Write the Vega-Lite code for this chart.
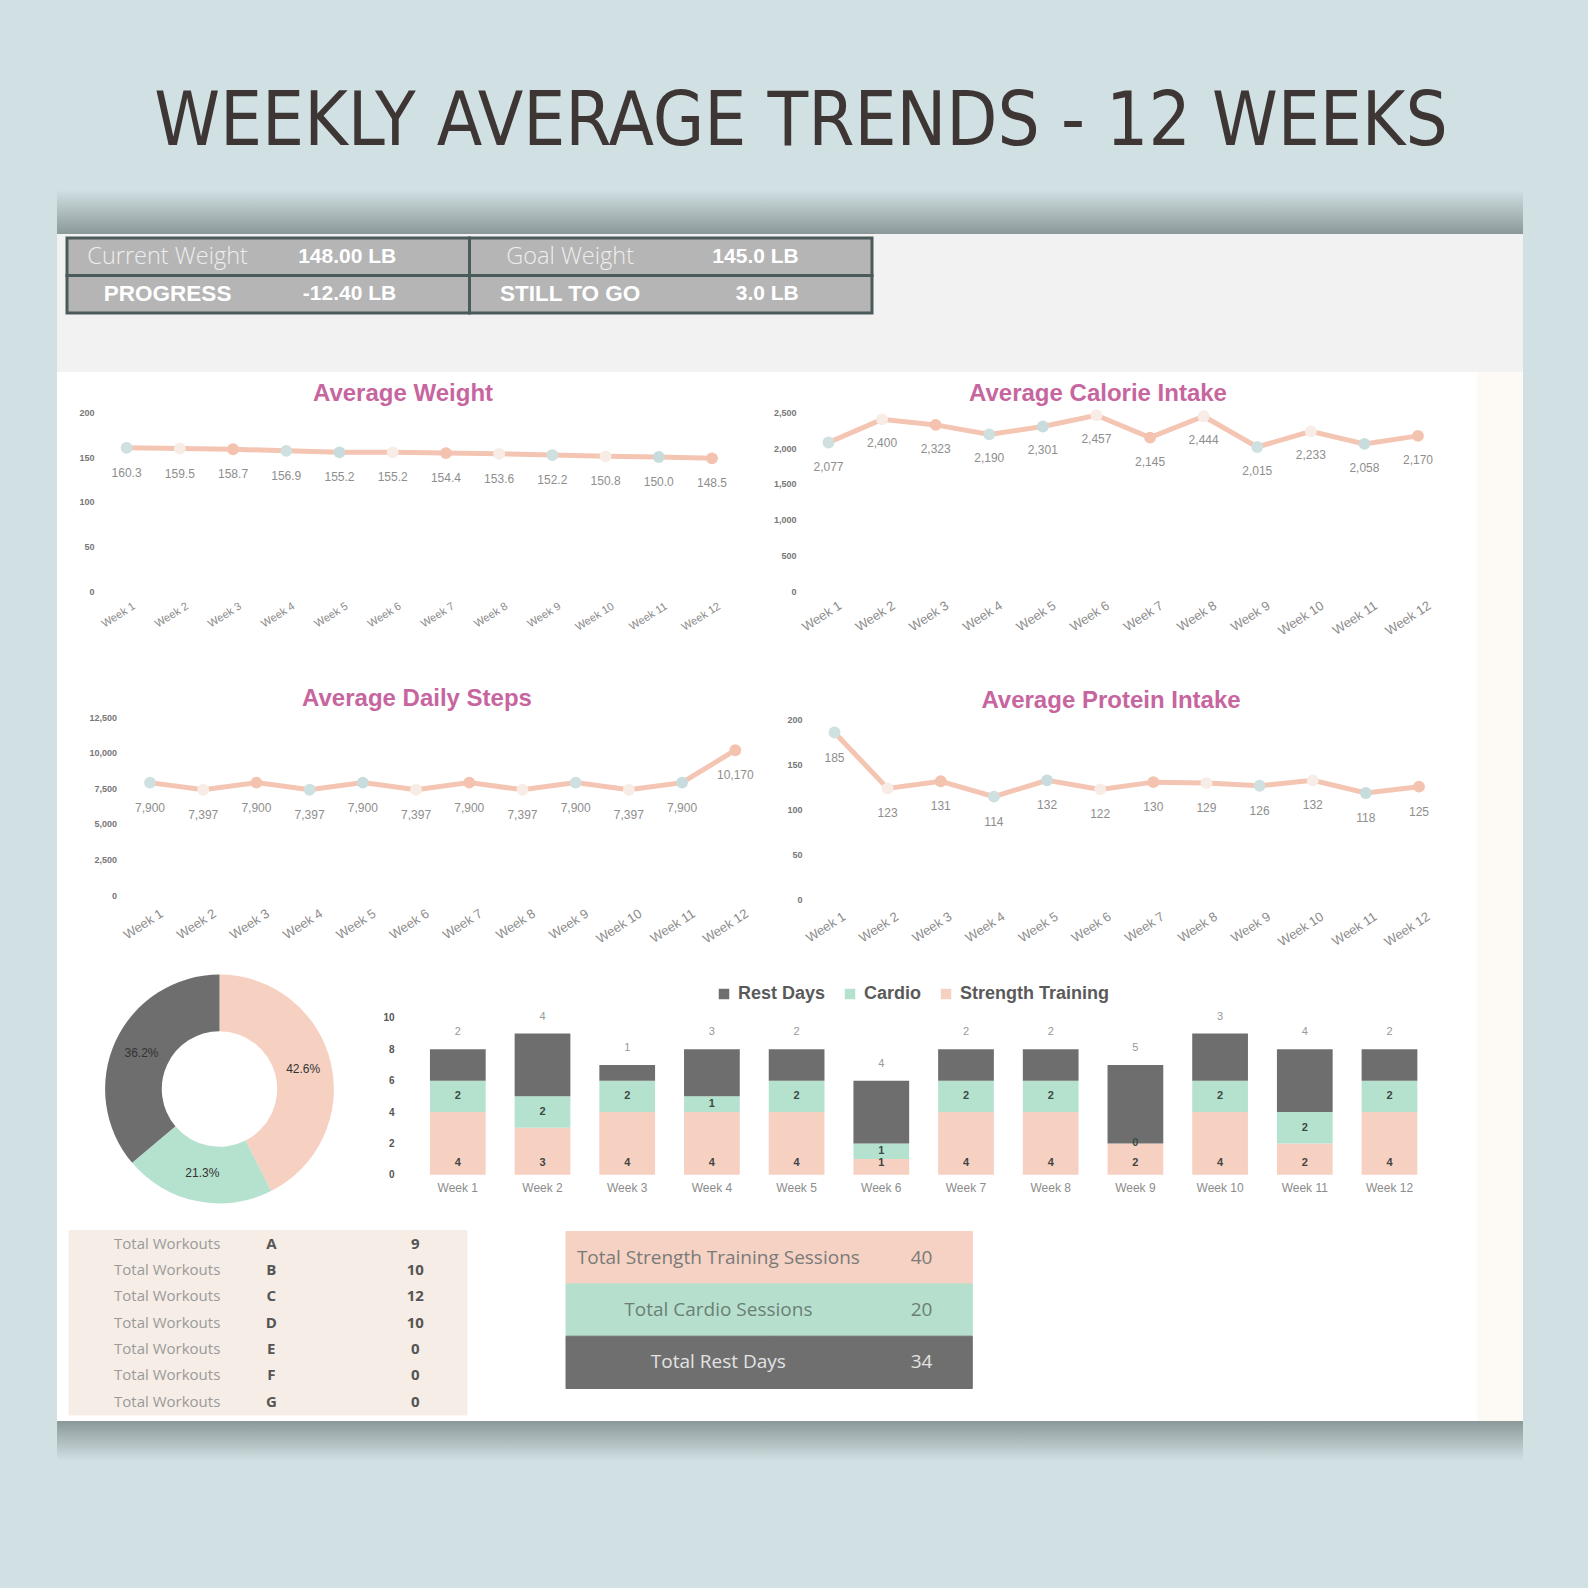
{
 "$schema": "https://vega.github.io/schema/vega-lite/v6.json",
 "background": "#d1e0e3",
 "padding": {"left": 57, "top": 0, "right": 65, "bottom": 127},
 "spacing": 0,
 "resolve": {"scale": {"color": "independent", "fill": "independent", "stroke": "independent"}},
 "config": {"view": {"stroke": null}, "font": "Liberation Sans", "axis": {"domain": false, "ticks": false, "grid": false}},
 "datasets": {
  "weekly": [
   {"week": "Week 1", "weight": 160.3, "calories": 2077, "steps": 7900, "protein": 185},
   {"week": "Week 2", "weight": 159.5, "calories": 2400, "steps": 7397, "protein": 123},
   {"week": "Week 3", "weight": 158.7, "calories": 2323, "steps": 7900, "protein": 131},
   {"week": "Week 4", "weight": 156.9, "calories": 2190, "steps": 7397, "protein": 114},
   {"week": "Week 5", "weight": 155.2, "calories": 2301, "steps": 7900, "protein": 132},
   {"week": "Week 6", "weight": 155.2, "calories": 2457, "steps": 7397, "protein": 122},
   {"week": "Week 7", "weight": 154.4, "calories": 2145, "steps": 7900, "protein": 130},
   {"week": "Week 8", "weight": 153.6, "calories": 2444, "steps": 7397, "protein": 129},
   {"week": "Week 9", "weight": 152.2, "calories": 2015, "steps": 7900, "protein": 126},
   {"week": "Week 10", "weight": 150.8, "calories": 2233, "steps": 7397, "protein": 132},
   {"week": "Week 11", "weight": 150.0, "calories": 2058, "steps": 7900, "protein": 118},
   {"week": "Week 12", "weight": 148.5, "calories": 2170, "steps": 10170, "protein": 125}
  ],
  "training": [
   {"week": "Week 1", "type": "Strength Training", "days": 4}, {"week": "Week 1", "type": "Cardio", "days": 2}, {"week": "Week 1", "type": "Rest Days", "days": 2},
   {"week": "Week 2", "type": "Strength Training", "days": 3}, {"week": "Week 2", "type": "Cardio", "days": 2}, {"week": "Week 2", "type": "Rest Days", "days": 4},
   {"week": "Week 3", "type": "Strength Training", "days": 4}, {"week": "Week 3", "type": "Cardio", "days": 2}, {"week": "Week 3", "type": "Rest Days", "days": 1},
   {"week": "Week 4", "type": "Strength Training", "days": 4}, {"week": "Week 4", "type": "Cardio", "days": 1}, {"week": "Week 4", "type": "Rest Days", "days": 3},
   {"week": "Week 5", "type": "Strength Training", "days": 4}, {"week": "Week 5", "type": "Cardio", "days": 2}, {"week": "Week 5", "type": "Rest Days", "days": 2},
   {"week": "Week 6", "type": "Strength Training", "days": 1}, {"week": "Week 6", "type": "Cardio", "days": 1}, {"week": "Week 6", "type": "Rest Days", "days": 4},
   {"week": "Week 7", "type": "Strength Training", "days": 4}, {"week": "Week 7", "type": "Cardio", "days": 2}, {"week": "Week 7", "type": "Rest Days", "days": 2},
   {"week": "Week 8", "type": "Strength Training", "days": 4}, {"week": "Week 8", "type": "Cardio", "days": 2}, {"week": "Week 8", "type": "Rest Days", "days": 2},
   {"week": "Week 9", "type": "Strength Training", "days": 2}, {"week": "Week 9", "type": "Cardio", "days": 0}, {"week": "Week 9", "type": "Rest Days", "days": 5},
   {"week": "Week 10", "type": "Strength Training", "days": 4}, {"week": "Week 10", "type": "Cardio", "days": 2}, {"week": "Week 10", "type": "Rest Days", "days": 3},
   {"week": "Week 11", "type": "Strength Training", "days": 2}, {"week": "Week 11", "type": "Cardio", "days": 2}, {"week": "Week 11", "type": "Rest Days", "days": 4},
   {"week": "Week 12", "type": "Strength Training", "days": 4}, {"week": "Week 12", "type": "Cardio", "days": 2}, {"week": "Week 12", "type": "Rest Days", "days": 2}
  ],
  "workouts": [
   {"name": "Total Workouts", "letter": "A", "count": 9},
   {"name": "Total Workouts", "letter": "B", "count": 10},
   {"name": "Total Workouts", "letter": "C", "count": 12},
   {"name": "Total Workouts", "letter": "D", "count": 10},
   {"name": "Total Workouts", "letter": "E", "count": 0},
   {"name": "Total Workouts", "letter": "F", "count": 0},
   {"name": "Total Workouts", "letter": "G", "count": 0}
  ],
  "sessions": [
   {"label": "Total Strength Training Sessions", "type": "Strength Training", "total": 40},
   {"label": "Total Cardio Sessions", "type": "Cardio", "total": 20},
   {"label": "Total Rest Days", "type": "Rest Days", "total": 34}
  ],
  "stats": [
   {"row": 1, "col": 1, "label": "Current Weight", "value": "148.00 LB"},
   {"row": 1, "col": 2, "label": "Goal Weight", "value": "145.0 LB"},
   {"row": 2, "col": 1, "label": "PROGRESS", "value": "-12.40 LB"},
   {"row": 2, "col": 2, "label": "STILL TO GO", "value": "3.0 LB"}
  ]
 },
 "vconcat": [
  {
   "width": 1466, "height": 190,
   "data": {"values": [{"t": "WEEKLY AVERAGE TRENDS - 12  WEEKS"}]},
   "mark": {"type": "text", "font": "DejaVu Sans Condensed, DejaVu Sans", "fontSize": 74, "color": "#3e3634", "dx": 11, "dy": 28},
   "encoding": {"text": {"field": "t"}}
  },
  {
   "width": 1466, "height": 44,
   "view": {"stroke": null, "fill": {"gradient": "linear", "x1": 0, "y1": 0, "x2": 0, "y2": 1, "stops": [{"offset": 0, "color": "#d1e0e3"}, {"offset": 1, "color": "#8b9899"}]}},
   "data": {"values": [{}]},
   "mark": {"type": "text", "text": " "}
  },
  {
   "width": 1466, "height": 138,
   "view": {"fill": "#f2f2f2", "stroke": null},
   "data": {"name": "stats"},
   "encoding": {
    "x": {"field": "col", "type": "ordinal", "scale": {"type": "band", "range": [10, 815], "padding": 0}, "axis": null},
    "y": {"field": "row", "type": "ordinal", "scale": {"type": "band", "range": [4, 79], "padding": 0}, "axis": null}
   },
   "layer": [
    {"mark": {"type": "rect", "color": "#b5b5b5", "stroke": "#4b5a5b", "strokeWidth": 3}},
    {"transform": [{"filter": "datum.row == 1"}], "mark": {"type": "text", "font": "Open Sans", "fontSize": 23.5, "fontWeight": 300, "color": "#eeeeee"}, "encoding": {"x": {"field": "col", "type": "ordinal", "bandPosition": 0.25}, "text": {"field": "label"}}},
    {"transform": [{"filter": "datum.row == 2"}], "mark": {"type": "text", "fontSize": 22.5, "fontWeight": "bold", "color": "#ffffff"}, "encoding": {"x": {"field": "col", "type": "ordinal", "bandPosition": 0.25}, "text": {"field": "label"}}},
    {"mark": {"type": "text", "fontSize": 21, "fontWeight": "bold", "color": "#ffffff", "align": "right"}, "encoding": {"x": {"field": "col", "type": "ordinal", "bandPosition": 0.818}, "text": {"field": "value"}}}
   ]
  },
  {
   "spacing": 0,
   "resolve": {"scale": {"color": "independent", "fill": "independent", "stroke": "independent"}},
   "hconcat": [
    {
     "spacing": 0,
     "resolve": {"scale": {"color": "independent", "fill": "independent", "stroke": "independent"}},
     "vconcat": [
      {
       "spacing": 0,
       "resolve": {"scale": {"color": "independent", "fill": "independent", "stroke": "independent"}},
       "hconcat": [
        {
         "width": 700, "height": 296,
         "view": {"fill": "white", "stroke": null},
         "title": {"text": "Average Weight", "font": "Liberation Sans", "fontSize": 24, "fontWeight": "bold", "color": "#c7659f", "anchor": "middle", "frame": "group", "offset": -53, "baseline": "alphabetic", "dx": -4},
         "data": {"name": "weekly"},
         "encoding": {
          "x": {"field": "week", "type": "ordinal", "sort": null, "title": null, "scale": {"type": "point", "range": [69.6, 655], "padding": 0}, "axis": {"labelAngle": -32, "labelAlign": "right", "labelBaseline": "top", "labelFontSize": 11, "labelColor": "#8c8c8c", "offset": -68, "labelPadding": 0, "labelOffset": 4}},
          "y": {"field": "weight", "type": "quantitative", "title": null, "scale": {"domain": [0, 200], "range": [219.5, 40.2], "nice": false, "zero": false}, "axis": {"values": [0, 50, 100, 150, 200], "offset": -37, "labelPadding": 0, "labelFontSize": 9, "labelFontWeight": "bold", "labelColor": "#777777"}}
         },
         "layer": [
          {"mark": {"type": "line", "color": "#f4c5b2", "strokeWidth": 5}},
          {"mark": {"type": "circle", "size": 140, "opacity": 1}, "encoding": {"color": {"field": "week", "type": "nominal", "sort": null, "legend": null, "scale": {"domain": ["Week 1","Week 2","Week 3","Week 4","Week 5","Week 6","Week 7","Week 8","Week 9","Week 10","Week 11","Week 12"], "range": ["#cfe0e1","#f8ece7","#f3c3af","#cfe0e1","#c9dcdd","#f8ece7","#f3c3af","#f8ece7","#cfe0e1","#f8ece7","#c9dcdd","#f3c3af"]}}}},
          {"mark": {"type": "text", "dy": 25, "fontSize": 12, "color": "#8e8e8e"}, "encoding": {"text": {"field": "weight", "format": ".1f"}}}
         ]
        },
        {
         "width": 720, "height": 296,
         "view": {"fill": "white", "stroke": null},
         "title": {"text": "Average Calorie Intake", "font": "Liberation Sans", "fontSize": 24, "fontWeight": "bold", "color": "#c7659f", "anchor": "middle", "frame": "group", "offset": -53, "baseline": "alphabetic", "dx": -19},
         "data": {"name": "weekly"},
         "encoding": {
          "x": {"field": "week", "type": "ordinal", "sort": null, "title": null, "scale": {"type": "point", "range": [71.5, 661], "padding": 0}, "axis": {"labelAngle": -33, "labelAlign": "right", "labelBaseline": "top", "labelFontSize": 13, "labelColor": "#8c8c8c", "offset": -69, "labelPadding": 0, "labelOffset": 8}},
          "y": {"field": "calories", "type": "quantitative", "title": null, "scale": {"domain": [0, 2500], "range": [219.5, 40.2], "nice": false, "zero": false}, "axis": {"values": [0, 500, 1000, 1500, 2000, 2500], "offset": -39, "labelPadding": 0, "labelFontSize": 9, "labelFontWeight": "bold", "labelColor": "#777777"}}
         },
         "layer": [
          {"mark": {"type": "line", "color": "#f4c5b2", "strokeWidth": 5}},
          {"mark": {"type": "circle", "size": 140, "opacity": 1}, "encoding": {"color": {"field": "week", "type": "nominal", "sort": null, "legend": null, "scale": {"domain": ["Week 1","Week 2","Week 3","Week 4","Week 5","Week 6","Week 7","Week 8","Week 9","Week 10","Week 11","Week 12"], "range": ["#cfe0e1","#f8ece7","#f3c3af","#cfe0e1","#c9dcdd","#f8ece7","#f3c3af","#f8ece7","#cfe0e1","#f8ece7","#c9dcdd","#f3c3af"]}}}},
          {"mark": {"type": "text", "dy": 24, "fontSize": 12, "color": "#8e8e8e"}, "encoding": {"text": {"field": "calories", "format": ","}}}
         ]
        }
       ]
      },
      {
       "spacing": 0,
       "resolve": {"scale": {"color": "independent", "fill": "independent", "stroke": "independent"}},
       "hconcat": [
        {
         "width": 700, "height": 294,
         "view": {"fill": "white", "stroke": null},
         "title": {"text": "Average Daily Steps", "font": "Liberation Sans", "fontSize": 24, "fontWeight": "bold", "color": "#c7659f", "anchor": "middle", "frame": "group", "offset": -62, "baseline": "alphabetic", "dx": 10},
         "data": {"name": "weekly"},
         "encoding": {
          "x": {"field": "week", "type": "ordinal", "sort": null, "title": null, "scale": {"type": "point", "range": [93, 678.3], "padding": 0}, "axis": {"labelAngle": -33, "labelAlign": "right", "labelBaseline": "top", "labelFontSize": 13, "labelColor": "#8c8c8c", "offset": -55, "labelPadding": 0, "labelOffset": 8}},
          "y": {"field": "steps", "type": "quantitative", "title": null, "scale": {"domain": [0, 12500], "range": [227.3, 49], "nice": false, "zero": false}, "axis": {"values": [0, 2500, 5000, 7500, 10000, 12500], "offset": -59.5, "labelPadding": 0, "labelFontSize": 9, "labelFontWeight": "bold", "labelColor": "#777777"}}
         },
         "layer": [
          {"mark": {"type": "line", "color": "#f4c5b2", "strokeWidth": 5}},
          {"mark": {"type": "circle", "size": 140, "opacity": 1}, "encoding": {"color": {"field": "week", "type": "nominal", "sort": null, "legend": null, "scale": {"domain": ["Week 1","Week 2","Week 3","Week 4","Week 5","Week 6","Week 7","Week 8","Week 9","Week 10","Week 11","Week 12"], "range": ["#cfe0e1","#f8ece7","#f3c3af","#cfe0e1","#c9dcdd","#f8ece7","#f3c3af","#f8ece7","#cfe0e1","#f8ece7","#c9dcdd","#f3c3af"]}}}},
          {"mark": {"type": "text", "dy": 25, "fontSize": 12, "color": "#8e8e8e"}, "encoding": {"text": {"field": "steps", "format": ","}}}
         ]
        },
        {
         "width": 720, "height": 294,
         "view": {"fill": "white", "stroke": null},
         "title": {"text": "Average Protein Intake", "font": "Liberation Sans", "fontSize": 24, "fontWeight": "bold", "color": "#c7659f", "anchor": "middle", "frame": "group", "offset": -64, "baseline": "alphabetic", "dx": -6},
         "data": {"name": "weekly"},
         "encoding": {
          "x": {"field": "week", "type": "ordinal", "sort": null, "title": null, "scale": {"type": "point", "range": [77.5, 662], "padding": 0}, "axis": {"labelAngle": -33, "labelAlign": "right", "labelBaseline": "top", "labelFontSize": 13, "labelColor": "#8c8c8c", "offset": -52, "labelPadding": 0, "labelOffset": 6}},
          "y": {"field": "protein", "type": "quantitative", "title": null, "scale": {"domain": [0, 200], "range": [231.4, 51], "nice": false, "zero": false}, "axis": {"values": [0, 50, 100, 150, 200], "offset": -45, "labelPadding": 0, "labelFontSize": 9, "labelFontWeight": "bold", "labelColor": "#777777"}}
         },
         "layer": [
          {"mark": {"type": "line", "color": "#f4c5b2", "strokeWidth": 5}},
          {"mark": {"type": "circle", "size": 140, "opacity": 1}, "encoding": {"color": {"field": "week", "type": "nominal", "sort": null, "legend": null, "scale": {"domain": ["Week 1","Week 2","Week 3","Week 4","Week 5","Week 6","Week 7","Week 8","Week 9","Week 10","Week 11","Week 12"], "range": ["#cfe0e1","#f8ece7","#f3c3af","#cfe0e1","#c9dcdd","#f8ece7","#f3c3af","#f8ece7","#cfe0e1","#f8ece7","#c9dcdd","#f3c3af"]}}}},
          {"mark": {"type": "text", "dy": 25, "fontSize": 12, "color": "#8e8e8e"}, "encoding": {"text": {"field": "protein"}}}
         ]
        }
       ]
      },
      {
       "spacing": 0,
       "resolve": {"scale": {"color": "independent", "fill": "independent", "stroke": "independent"}},
       "hconcat": [
        {
         "width": 325, "height": 254,
         "view": {"fill": "white", "stroke": null},
         "data": {"name": "sessions"},
         "transform": [
          {"calculate": "indexof(['Strength Training','Cardio','Rest Days'], datum.type)", "as": "stackOrder"},
          {"joinaggregate": [{"op": "sum", "field": "total", "as": "grand"}]},
          {"calculate": "datum.total / datum.grand", "as": "share"}
         ],
         "encoding": {
          "theta": {"field": "total", "type": "quantitative", "stack": true},
          "order": {"field": "stackOrder", "type": "quantitative", "sort": "ascending"}
         },
         "layer": [
          {"mark": {"type": "arc", "innerRadius": 57.7, "outerRadius": 114.4}, "encoding": {"color": {"field": "type", "type": "nominal", "legend": null, "scale": {"domain": ["Rest Days", "Cardio", "Strength Training"], "range": ["#6e6e6e", "#b5e2cf", "#f6d1c2"]}}}},
          {"mark": {"type": "text", "radius": 86, "fontSize": 12, "color": "#333333"}, "encoding": {"text": {"field": "share", "format": ".1%"}}}
         ]
        },
        {
         "width": 1095, "height": 254,
         "view": {"fill": "white", "stroke": null},
         "data": {"name": "training"},
         "transform": [
          {"calculate": "indexof(['Strength Training','Cardio','Rest Days'], datum.type)", "as": "stackOrder"},
          {"stack": "days", "groupby": ["week"], "sort": [{"field": "stackOrder", "order": "ascending"}], "as": ["d0", "d1"]},
          {"calculate": "(datum.d0 + datum.d1) / 2", "as": "dmid"}
         ],
         "encoding": {
          "x": {"field": "week", "type": "ordinal", "sort": null, "title": null, "scale": {"type": "band", "range": [47.95, 1035.35], "paddingInner": 0.342, "paddingOuter": 0}, "axis": {"labelAngle": 0, "labelBaseline": "top", "labelFontSize": 12, "labelColor": "#8c8c8c", "offset": -34, "labelPadding": 0}}
         },
         "layer": [
          {"mark": {"type": "bar"}, "encoding": {
            "y": {"field": "d0", "type": "quantitative", "title": null, "scale": {"domain": [0, 10], "range": [212.8, 55.9], "nice": false, "zero": false}, "axis": {"values": [0, 2, 4, 6, 8, 10], "offset": -12, "labelPadding": 0, "labelFontSize": 10, "labelFontWeight": "bold", "labelColor": "#555555"}},
            "y2": {"field": "d1"},
            "color": {"field": "type", "type": "nominal", "scale": {"domain": ["Rest Days", "Cardio", "Strength Training"], "range": ["#6e6e6e", "#b5e2cf", "#f6d1c2"]}, "legend": {"orient": "none", "legendX": 333, "legendY": 23, "direction": "horizontal", "title": null, "symbolType": "square", "symbolSize": 110, "symbolStrokeWidth": 0, "labelFontSize": 18, "labelFontWeight": "bold", "labelColor": "#5a5a5a", "columnPadding": 15, "labelOffset": 5}}
          }},
          {"transform": [{"filter": "datum.type == 'Strength Training'"}], "mark": {"type": "text", "dy": -12, "fontSize": 11, "fontWeight": "bold", "color": "#444444"}, "encoding": {"y": {"datum": 0, "type": "quantitative", "title": null}, "text": {"field": "days"}}},
          {"transform": [{"filter": "datum.type == 'Cardio'"}], "mark": {"type": "text", "fontSize": 11, "fontWeight": "bold", "color": "#3b4a44"}, "encoding": {"y": {"field": "dmid", "type": "quantitative", "title": null}, "text": {"field": "days"}}},
          {"transform": [{"filter": "datum.type == 'Rest Days'"}], "mark": {"type": "text", "dy": -17, "fontSize": 11, "color": "#999999"}, "encoding": {"y": {"field": "d1", "type": "quantitative", "title": null}, "text": {"field": "days"}}}
         ]
        }
       ]
      },
      {
       "spacing": 0,
       "resolve": {"scale": {"color": "independent", "fill": "independent", "stroke": "independent"}},
       "hconcat": [
        {
         "width": 460, "height": 205,
         "view": {"fill": "white", "stroke": null},
         "data": {"name": "workouts"},
         "transform": [{"fold": ["name", "letter", "count"], "as": ["column", "cell"]}],
         "encoding": {
          "x": {"field": "column", "type": "nominal", "scale": {"type": "band", "domain": ["name", "letter", "count"], "range": [12, 410], "padding": 0}, "axis": null},
          "y": {"field": "letter", "type": "nominal", "sort": null, "scale": {"type": "band", "range": [14.6, 199], "padding": 0}, "axis": null}
         },
         "layer": [
          {"mark": {"type": "rect", "color": "#f6ede6", "stroke": "#f6ede6", "strokeWidth": 1}},
          {"transform": [{"filter": "datum.column == 'name'"}], "mark": {"type": "text", "font": "Open Sans", "fontSize": 15, "color": "#9a9a9a"}, "encoding": {"x": {"field": "column", "type": "nominal", "bandPosition": 0.74}, "text": {"field": "cell"}}},
          {"transform": [{"filter": "datum.column == 'letter'"}], "mark": {"type": "text", "font": "Open Sans", "fontSize": 15, "fontWeight": "bold", "color": "#555555"}, "encoding": {"x": {"field": "column", "type": "nominal", "bandPosition": 0.525}, "text": {"field": "cell"}}},
          {"transform": [{"filter": "datum.column == 'count'"}], "mark": {"type": "text", "font": "Open Sans", "fontSize": 15, "fontWeight": "bold", "color": "#555555"}, "encoding": {"x": {"field": "column", "type": "nominal", "bandPosition": 0.61}, "text": {"field": "cell"}}}
         ]
        },
        {
         "width": 960, "height": 205,
         "view": {"fill": "white", "stroke": null},
         "data": {"name": "sessions"},
         "transform": [{"fold": ["label", "total"], "as": ["column", "cell"]}],
         "encoding": {
          "x": {"field": "column", "type": "nominal", "scale": {"type": "band", "domain": ["label", "total"], "range": [49, 455.3], "padding": 0}, "axis": null},
          "y": {"field": "type", "type": "nominal", "sort": null, "scale": {"type": "band", "range": [15.6, 172.5], "padding": 0}, "axis": null}
         },
         "layer": [
          {"mark": {"type": "rect", "strokeWidth": 1}, "encoding": {
            "fill": {"field": "type", "type": "nominal", "legend": null, "scale": {"domain": ["Strength Training", "Cardio", "Rest Days"], "range": ["#f5d2c3", "#b6e0cd", "#6f6f6f"]}},
            "stroke": {"field": "type", "type": "nominal", "legend": null, "scale": {"domain": ["Strength Training", "Cardio", "Rest Days"], "range": ["#f5d2c3", "#b6e0cd", "#6f6f6f"]}}
          }},
          {"mark": {"type": "text", "font": "Open Sans", "fontSize": 19}, "encoding": {
            "x": {"field": "column", "type": "nominal", "bandPosition": 0.75},
            "text": {"field": "cell"},
            "color": {"field": "type", "type": "nominal", "legend": null, "scale": {"domain": ["Strength Training", "Cardio", "Rest Days"], "range": ["#7a7a7a", "#6b7f76", "#e3e3e3"]}}
          }}
         ]
        }
       ]
      }
     ]
    },
    {
     "width": 46, "height": 1049,
     "view": {"fill": "#fdfaf6", "stroke": null},
     "data": {"values": [{}]},
     "mark": {"type": "text", "text": " "}
    }
   ]
  },
  {
   "width": 1466, "height": 40,
   "view": {"stroke": null, "fill": {"gradient": "linear", "x1": 0, "y1": 0, "x2": 0, "y2": 1, "stops": [{"offset": 0, "color": "#8b9899"}, {"offset": 1, "color": "#d1e0e3"}]}},
   "data": {"values": [{}]},
   "mark": {"type": "text", "text": " "}
  }
 ]
}
